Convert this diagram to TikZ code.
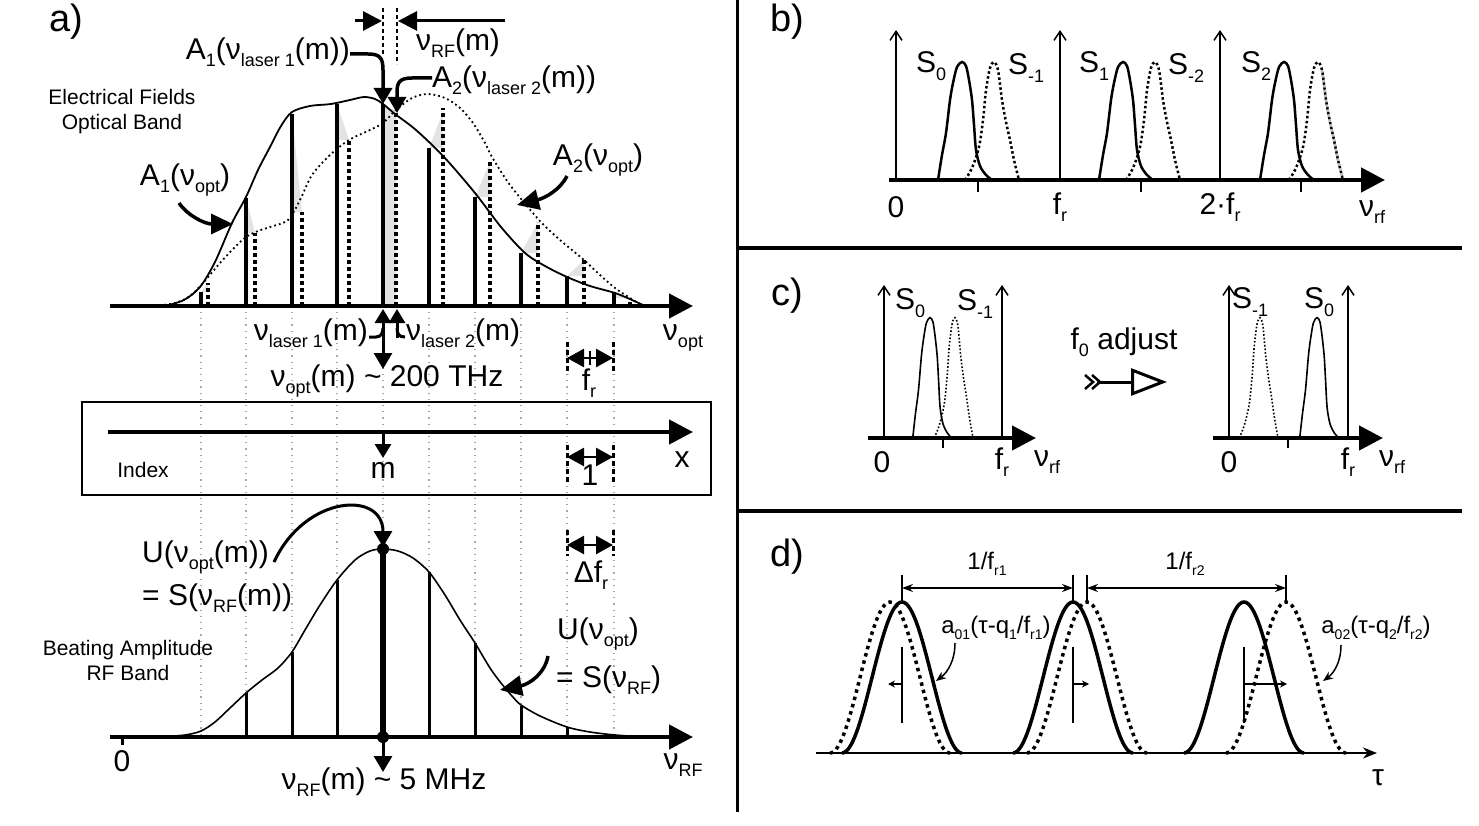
\documentclass[tikz,border=0pt]{standalone}
\usepackage{fontspec}
\setmainfont{Liberation Sans}
\usetikzlibrary{arrows.meta}
\newcommand{\sbs}[1]{\raisebox{-0.25em}{\fontsize{18}{18}\selectfont #1}}
\newcommand{\sbm}[1]{\raisebox{-0.25em}{\fontsize{14}{14}\selectfont #1}}
\tikzset{
 lbl/.style={font=\fontsize{30}{34}\selectfont, inner sep=0pt},
 sml/.style={font=\fontsize{21}{25}\selectfont, inner sep=0pt, align=center},
 med/.style={font=\fontsize{24}{28}\selectfont, inner sep=0pt},
 plbl/.style={font=\fontsize{38}{42}\selectfont, inner sep=0pt},
 bigaxis/.style={line width=4.5pt, -{Triangle[length=24pt,width=24pt]}},
 combs/.style={line width=3.5pt},
 dcombs/.style={line width=3.5pt, dash pattern=on 4pt off 3pt},
 guide/.style={line width=1.2pt, gray!70, dash pattern=on 1.2pt off 5pt},
 envs/.style={line width=1.8pt},
 denvs/.style={line width=1.8pt, dash pattern=on 1.8pt off 3pt},
 bigarr/.style={line width=3.5pt, -{Triangle[length=22pt,width=20pt]}},
 medarr/.style={line width=3pt, -{Triangle[length=19pt,width=19pt]}},
 thinup/.style={line width=1.5pt, -{Straight Barb[length=9pt,width=12pt]}},
 fmark/.style={line width=3pt, dash pattern=on 5pt off 3pt},
 dblarr/.style={line width=2.5pt, {Triangle[length=17pt,width=18pt]}-{Triangle[length=17pt,width=18pt]}},
 gshade/.style={fill=gray!22, draw=none},
 spul/.style={line width=2.5pt},
 dpul/.style={line width=2.5pt, dash pattern=on 2.5pt off 2.5pt},
 spulc/.style={line width=1.6pt},
 dpulc/.style={line width=1.6pt, dash pattern=on 1.6pt off 2pt},
 sgauss/.style={line width=3.5pt},
 dgauss/.style={line width=3.5pt, dash pattern=on 3.5pt off 4pt},
 spulse/.pic={\draw[pic actions] plot[smooth] coordinates {(-24,0) (-20,-25) (-16,-47) (-12,-80) (-9,-97) (-5,-113) (0,-118) (4,-114) (7,-100) (10,-80) (12,-55) (14,-30) (18,-14) (24,-5) (30,0)};},
 dpulse/.pic={\draw[pic actions] plot[smooth] coordinates {(-29,0) (-22,-12) (-15,-33) (-11,-60) (-8,-90) (-4,-112) (0,-118) (4,-110) (8,-80) (12,-58) (16,-40) (20,-20) (25,0)};},
 dpulseright/.pic={\draw[pic actions] plot[smooth] coordinates {(4,-110) (8,-80) (12,-58) (16,-40) (20,-20) (25,0)};},
}
\begin{document}
\begin{tikzpicture}[x=1pt,y=-1pt]
\useasboundingbox (0,0) rectangle (1479,826);
% dividers
\draw[line width=3pt] (737,0) -- (737,812);
\draw[line width=3.5pt] (737,248) -- (1462,248);
\draw[line width=3.5pt] (737,511) -- (1462,511);

%%%%%%%%%%%%%%%% panel a
\node[plbl] (pa) at (66,22) {a)};
\foreach \gx in {201,246,292,337,383,429,475,521,567,614} \draw[guide] (\gx,312) -- (\gx,734);
% shading
\fill[gshade] (201,292) -- (208,283) -- (208,292) -- cycle;
\fill[gshade] (246,198) -- (255,233) -- (246,233) -- cycle;
\fill[gshade] (292,114) -- (302,212) -- (292,212) -- cycle;
\fill[gshade] (337,104) -- (349,140) -- (337,140) -- cycle;
\fill[gshade] (383,107) -- (396,110) -- (396,306) -- (383,306) -- cycle;
\fill[gshade] (429,148) -- (443,112) -- (443,148) -- cycle;
\fill[gshade] (475,197) -- (490,162) -- (490,197) -- cycle;
\fill[gshade] (521,253) -- (538,222) -- (538,253) -- cycle;
\fill[gshade] (567,276) -- (584,260) -- (584,276) -- cycle;
\fill[gshade] (614,292) -- (630,298) -- (614,298) -- cycle;
% envelopes
\draw[envs] plot[smooth] coordinates {(165,306) (184,300) (200,287) (215,262) (232,223) (246,197) (258,170) (270,147) (281,126) (292,112) (310,106) (331,104) (350,100) (364,97) (375,99) (383,104) (395,114) (416,130) (444,157) (475,193) (501,227) (525,253) (545,266) (567,277) (590,286) (615,293) (632,300) (645,306)};
\draw[denvs] plot[smooth] coordinates {(155,306) (175,303) (190,296) (203,283) (220,263) (235,247) (246,237) (258,231) (270,227) (288,220) (300,200) (312,175) (330,155) (349,140) (370,130) (383,123) (396,110) (412,98) (428,94) (445,98) (460,108) (473,123) (485,143) (492,157) (510,185) (539,220) (560,240) (584,260) (600,275) (615,288) (630,298) (643,306)};
% combs
\foreach \cx/\t in {201/292,246/198,292/114,337/104,383/104,429/148,475/197,521/253,567/276,614/292} \draw[combs] (\cx,306) -- (\cx,\t);
\foreach \cx/\t in {208/283,255/233,302/212,349/140,396/110,443/108,490/162,538/222,584/260,630/298} \draw[dcombs] (\cx,306) -- (\cx,\t);
% optical axis
\coordinate (oa0) at (110,306); \coordinate (oa1) at (693,306);
\draw[bigaxis] (oa0) -- (oa1);
\node[lbl] (nuopt) at (683,338) {ν\sbs{opt}};
% top markers
\draw[line width=1.3pt, dash pattern=on 4pt off 3pt] (383,8) -- (383,56);
\draw[line width=1.3pt, dash pattern=on 4pt off 3pt] (397,8) -- (397,64);
\coordinate (tl0) at (355,21); \coordinate (tl1) at (382,21);
\coordinate (tr0) at (505,21); \coordinate (tr1) at (398,21);
\draw[medarr] (tl0) -- (tl1);
\draw[medarr] (tr0) -- (tr1);
\node[lbl] (nurf) at (458,43) {ν\sbs{RF}(m)};
\node[lbl, anchor=east] (a1las) at (350,52) {A\sbs{1}(ν\sbs{laser 1}(m))};
\node[lbl, anchor=west] (a2las) at (432,80) {A\sbs{2}(ν\sbs{laser 2}(m))};
\coordinate (a1t) at (383,104); \coordinate (a2t) at (397,113);
\draw[line width=3.5pt, -{Triangle[length=16pt,width=18pt]}] (a1las.east |- 0,54) -- (368,54) .. controls (380,54) and (383,58) .. (383,70) -- (a1t);
\draw[line width=3.5pt, -{Triangle[length=16pt,width=18pt]}] (a2las.west |- 0,78) -- (412,78) .. controls (400,78) and (397,82) .. (397,92) -- (a2t);
\node[sml] (ef) at (122,112) {Electrical Fields\\Optical Band};
\node[lbl] (a1opt) at (185,180) {A\sbs{1}(ν\sbs{opt})};
\node[lbl] (a2opt) at (598,160) {A\sbs{2}(ν\sbs{opt})};
\coordinate (a1h) at (233,224); \coordinate (a2h) at (517,205);
\draw[bigarr] (179,203) .. controls (188,216) and (205,224) .. (a1h);
\draw[bigarr] (567,176) .. controls (560,190) and (545,198) .. (a2h);
% below optical axis
\node[lbl, anchor=east] (las1) at (368,333) {ν\sbs{laser 1}(m)};
\node[lbl, anchor=west] (las2) at (406,333) {ν\sbs{laser 2}(m)};
\coordinate (u1) at (383,309); \coordinate (u2) at (397,309);
\draw[line width=3pt, -{Triangle[length=14pt,width=16pt]}] (383,345) -- (u1);
\draw[line width=3pt, -{Triangle[length=14pt,width=16pt]}] (397,338) -- (u2);
\coordinate (dm) at (383,369);
\draw[line width=3pt, -{Triangle[length=16pt,width=18pt]}] (383,330) -- (dm);
\draw[line width=3pt] (369,337) -- (376,337) .. controls (381,337) and (383,333) .. (383,328);
\draw[line width=3pt] (397,328) .. controls (397,334) and (399,337) .. (405,337);
\node[lbl] (nuoptm) at (387,381) {ν\sbs{opt}(m) \textasciitilde{} 200 THz};
% f_r marker
\draw[fmark] (567,342) -- (567,374);
\draw[fmark] (613,342) -- (613,374);
\draw[dblarr] (567,358) -- (613,358);
\draw[line width=2pt] (590,351) -- (590,365);
\node[lbl] (fr) at (589,383) {f\sbs{r}};
% index box
\draw[line width=1.8pt] (82,402) rectangle (711,495);
\coordinate (ix0) at (108,432); \coordinate (ix1) at (693,432);
\draw[bigaxis] (ix0) -- (ix1);
\node[lbl] (xl) at (682,460) {x};
\node[sml] (idx) at (143,470) {Index};
\coordinate (mt) at (383,458);
\draw[line width=3pt, -{Triangle[length=14pt,width=16pt]}] (383,432) -- (mt);
\node[lbl] (ml) at (383,470) {m};
\draw[fmark] (567,445) -- (567,482);
\draw[fmark] (613,445) -- (613,482);
\draw[dblarr] (567,457) -- (613,457);
\node[lbl] (one) at (590,475) {1};
% RF band
\draw[envs, line width=1.6pt] plot[smooth] coordinates {(160,737) (185,735) (201,731) (215,722) (230,708) (246,693) (262,680) (278,668) (292,652) (305,630) (320,605) (337,580) (355,560) (370,551) (383,549) (398,551) (413,558) (429,572) (445,595) (460,620) (475,643) (490,668) (501,683) (512,696) (521,705) (540,716) (567,727) (590,732) (615,735) (645,737)};
\foreach \cx/\t in {246/693,292/652,337/580,429/572,475/643,521/706,567/727} \draw[line width=3pt] (\cx,737) -- (\cx,\t);
\draw[line width=6pt] (383,737) -- (383,549);
\coordinate (rfa0) at (110,737); \coordinate (rfa1) at (693,737);
\draw[bigaxis] (rfa0) -- (rfa1);
\draw[line width=3pt] (122,737) -- (122,745);
\node[lbl] (zero) at (122,761) {0};
\node[lbl] (nurfax) at (683,765) {ν\sbs{RF}};
\fill (383,549) circle (6pt);
\fill (383,737) circle (6pt);
\coordinate (rfd) at (383,772);
\draw[line width=3pt, -{Triangle[length=16pt,width=18pt]}] (383,737) -- (rfd);
\node[lbl] (nurfm) at (384,782) {ν\sbs{RF}(m) \textasciitilde{} 5 MHz};
\node[lbl, anchor=west] (uopm) at (142,557) {U(ν\sbs{opt}(m))};
\node[lbl, anchor=west] (srfm) at (142,598) {= S(ν\sbs{RF}(m))};
\coordinate (uh) at (383,547);
\draw[line width=3pt, -{Triangle[length=16pt,width=18pt]}] (274,562) .. controls (305,495) and (383,490) .. (uh);
\node[sml] (ba) at (128,660) {Beating Amplitude\\RF Band};
\node[lbl, anchor=west] (uop) at (557,634) {U(ν\sbs{opt})};
\node[lbl, anchor=west] (srf) at (556,680) {= S(ν\sbs{RF})};
\coordinate (uph) at (500,690);
\draw[bigarr] (548,656) .. controls (545,673) and (530,684) .. (uph);
\draw[fmark] (567,530) -- (567,556);
\draw[fmark] (613,530) -- (613,556);
\draw[dblarr] (567,545) -- (613,545);
\node[lbl] (dfr) at (591,575) {Δf\sbs{r}};

%%%%%%%%%%%%%%%% panel b
\node[plbl] (pb) at (787,22) {b)};
\foreach \vx in {896,1060,1220} \draw[thinup] (\vx,180) -- (\vx,30);
\foreach \tx in {978,1141,1301} \draw[line width=1.8pt] (\tx,180) -- (\tx,192);
\foreach \px in {962,1123,1284} \pic[spul] at (\px,180) {spulse};
\foreach \px in {994,1155} \pic[dpul] at (\px,180) {dpulse};
\pic[dpul] at (1318,180) {dpulse};
\pic[dpul, draw=gray!55, line width=2.8pt] at (1318,180) {dpulseright};
\coordinate (bx0) at (889,180); \coordinate (bx1) at (1385,180);
\draw[bigaxis] (bx0) -- (bx1);
\node[lbl] (b0) at (896,207) {0};
\node[lbl] (bfr) at (1060,207) {f\sbs{r}};
\node[lbl] (b2fr) at (1220,207) {2·f\sbs{r}};
\node[lbl] (bnu) at (1372,212) {ν\sbs{rf}};
\node[lbl] (bs0) at (931,66) {S\sbs{0}};
\node[lbl] (bsm1) at (1026,68) {S\sbs{-1}};
\node[lbl] (bs1) at (1094,66) {S\sbs{1}};
\node[lbl] (bsm2) at (1186,68) {S\sbs{-2}};
\node[lbl] (bs2) at (1256,66) {S\sbs{2}};

%%%%%%%%%%%%%%%% panel c
\node[plbl] (pc) at (787,296) {c)};
\foreach \vx in {884,1002,1229,1348} \draw[thinup] (\vx,438) -- (\vx,285);
\foreach \tx in {943,1288} \draw[line width=2pt] (\tx,438) -- (\tx,448);
\pic[spulc, xscale=0.72, yscale=1.02] at (930,438) {spulse};
\pic[dpulc, xscale=0.72, yscale=1.02] at (955,438) {dpulse};
\pic[dpulc, xscale=0.72, yscale=1.02] at (1260,438) {dpulse};
\pic[spulc, xscale=0.72, yscale=1.02] at (1317,438) {spulse};
\coordinate (cl0) at (868,438); \coordinate (cl1) at (1036,438);
\draw[bigaxis] (cl0) -- (cl1);
\coordinate (cr0) at (1213,438); \coordinate (cr1) at (1383,438);
\draw[bigaxis] (cr0) -- (cr1);
\node[lbl] (c0l) at (882,462) {0};
\node[lbl] (cfrl) at (1002,462) {f\sbs{r}};
\node[lbl] (cnul) at (1047,462) {ν\sbs{rf}};
\node[lbl] (c0r) at (1229,462) {0};
\node[lbl] (cfrr) at (1348,462) {f\sbs{r}};
\node[lbl] (cnur) at (1392,462) {ν\sbs{rf}};
\node[lbl] (cs0l) at (910,303) {S\sbs{0}};
\node[lbl] (csm1l) at (975,304) {S\sbs{-1}};
\node[lbl] (csm1r) at (1250,302) {S\sbs{-1}};
\node[lbl] (cs0r) at (1319,302) {S\sbs{0}};
\node[lbl] (fadj) at (1124,342) {f\sbs{0} adjust};
\coordinate (fa0) at (1097,382); \coordinate (fa1) at (1167,382);
\draw[line width=3pt, -{Triangle[open, length=36pt, width=27pt]}] (fa0) -- (fa1);
\draw[line width=2.5pt] (1085,375) -- (1093,382) -- (1085,389);
\draw[line width=2.5pt] (1092,375) -- (1100,382) -- (1092,389);

%%%%%%%%%%%%%%%% panel d
\node[plbl] (pd) at (787,557) {d)};
\foreach \px in {890,1087,1286} \draw[dgauss] plot[domain=-60:60, samples=61, smooth] ({\px+\x}, {753-151*cos(1.5*\x)*cos(1.5*\x)});
\foreach \px in {902,1073,1244} \draw[sgauss] plot[domain=-60:60, samples=61, smooth] ({\px+\x}, {753-151*cos(1.5*\x)*cos(1.5*\x)});
\coordinate (dx0) at (816,753); \coordinate (dx1) at (1377,753);
\draw[line width=2pt, -{Stealth[length=14pt,width=11pt]}] (dx0) -- (dx1);
\node[lbl] (tau) at (1378,778) {τ};
\foreach \tx in {902,1073,1087,1286} \draw[line width=1.5pt] (\tx,575) -- (\tx,601);
\coordinate (d1a) at (902,588); \coordinate (d1b) at (1073,588);
\coordinate (d2a) at (1087,588); \coordinate (d2b) at (1286,588);
\draw[line width=1.5pt, {Stealth[length=11pt,width=8pt]}-{Stealth[length=11pt,width=8pt]}] (d1a) -- (d1b);
\draw[line width=1.5pt, {Stealth[length=11pt,width=8pt]}-{Stealth[length=11pt,width=8pt]}] (d2a) -- (d2b);
\node[med] (ifr1) at (987,564) {1/f\sbm{r1}};
\node[med] (ifr2) at (1185,564) {1/f\sbm{r2}};
\foreach \tx in {902,1073,1244} \draw[line width=1.3pt] (\tx,647) -- (\tx,723);
\coordinate (s1) at (888,684); \coordinate (s2) at (1089,684); \coordinate (s3) at (1287,684);
\draw[line width=1.5pt, -{Stealth[length=7pt,width=7pt]}] (902,684) -- (s1);
\draw[line width=1.5pt, -{Stealth[length=7pt,width=7pt]}] (1073,684) -- (s2);
\draw[line width=1.5pt, -{Stealth[length=7pt,width=7pt]}] (1244,684) -- (s3);
\node[med] (a01) at (996,628) {a\sbm{01}(τ-q\sbm{1}/f\sbm{r1})};
\node[med] (a02) at (1376,628) {a\sbm{02}(τ-q\sbm{2}/f\sbm{r2})};
\coordinate (ah1) at (936,681); \coordinate (ah2) at (1323,681);
\draw[line width=1.5pt, -{Stealth[length=10pt,width=8pt]}] (955,643) .. controls (955,660) and (948,672) .. (ah1);
\draw[line width=1.5pt, -{Stealth[length=10pt,width=8pt]}] (1341,645) .. controls (1341,662) and (1334,673) .. (ah2);
\end{tikzpicture}
\end{document}
